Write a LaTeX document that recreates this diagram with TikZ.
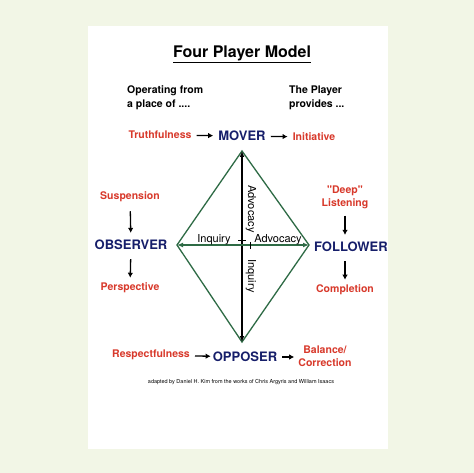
\documentclass[tikz,border=0pt]{standalone}
\usepackage{fontspec}
\setmainfont{TeX Gyre Heros}[Ligatures=TeXOff]
\usetikzlibrary{arrows.meta, positioning}

\definecolor{bgcol}{HTML}{F2F6E6}
\definecolor{rolecol}{HTML}{161E6A}
\definecolor{qualcol}{HTML}{D8392B}
\definecolor{diamcol}{HTML}{2E6B45}

\tikzset{
  role/.style={font=\fontsize{13}{15}\selectfont\bfseries, text=rolecol, inner sep=2pt},
  qual/.style={font=\fontsize{10.5}{13}\selectfont\bfseries, text=qualcol, inner sep=2pt, align=center},
  head/.style={font=\fontsize{10.5}{14}\selectfont\bfseries, align=left, anchor=west, inner sep=0pt},
  axis/.style={font=\fontsize{11}{13}\selectfont, inner sep=1pt},
  arr/.style={line width=1.3pt, -{Latex[length=5pt,width=5.5pt]}},
  varr/.style={arr, shorten <=7pt, shorten >=5pt}
}

\begin{document}
\begin{tikzpicture}[x=1pt, y=-1pt, >=latex]
  \useasboundingbox (0,0) rectangle (474,473);
  \fill [bgcol] (0,0) rectangle (474,473);
  \fill [white] (88,26) rectangle (388,449);

  \node (title) at (242,54) {\fontsize{16}{18}\selectfont\bfseries\underline{Four Player Model}};
  \node (ophead) at (127,98) [head] {Operating from\\a place of ....};
  \node (provhead) at (289,98) [head] {The Player\\provides ...};

  % top row
  \node (mover) at (242,136) [role] {MOVER};
  \node (truth) at (160,135) [qual] {Truthfulness};
  \node (initiative) at (314,137) [qual] {Initiative};
  \draw [arr, shorten <=3pt, shorten >=3pt] (truth) -- (mover);
  \draw [arr, shorten <=3pt, shorten >=3pt] (mover) -- (initiative);

  % diamond
  \coordinate (top) at (242,151);
  \coordinate (right) at (309,245);
  \coordinate (bottom) at (242,342);
  \coordinate (left) at (177,245);
  \draw [diamcol, line width=1.3pt, line join=miter] (top) -- (right) -- (bottom) -- (left) -- cycle;
  \draw [line width=1.3pt, {Latex[length=6pt,width=5pt]}-{Latex[length=6pt,width=5pt]}] (bottom) -- (top);
  \draw [diamcol, line width=1.3pt, {Latex[length=6pt,width=5pt]}-{Latex[length=6pt,width=5pt]}] (left) -- (right);
  \draw [line width=0.6pt] (238,240) -- (246,240);
  \draw [line width=0.6pt] (250,242) -- (250,249);
  \node (advv) at (251,209) [axis, rotate=-90] {Advocacy};
  \node (inqv) at (251,276) [axis, rotate=-90] {Inquiry};
  \node (inqh) at (214,240) [axis] {Inquiry};
  \node (advh) at (278,240) [axis] {Advocacy};

  % left side
  \node (observer) at (131,245) [role] {OBSERVER};
  \node (suspension) at (130,197) [qual] {Suspension};
  \node (perspective) at (130,288) [qual] {Perspective};
  \draw [varr] (suspension) -- (observer);
  \draw [varr, shorten >=3pt] (observer) -- (perspective);

  % right side
  \node (follower) at (351,247) [role] {FOLLOWER};
  \node (deep) at (345,197) [qual] {"Deep"\\Listening};
  \node (completion) at (345,290) [qual] {Completion};
  \draw [varr, shorten <=5pt] (deep) -- (deep |- follower.north);
  \draw [varr, shorten >=3pt] (deep |- follower.south) -- (completion);

  % bottom row
  \node (opposer) at (245,357) [role] {OPPOSER};
  \node (respect) at (151,355) [qual] {Respectfulness};
  \node (balance) at (325,356) [qual] {Balance/\\Correction};
  \draw [arr, shorten <=3pt, shorten >=0pt] (respect) -- (opposer);
  \draw [arr, shorten <=3pt, shorten >=2pt] (opposer) -- (opposer -| balance.west);

  \node (credit) at (241,382) {\fontsize{5.5}{6}\selectfont adapted by Daniel H. Kim from the works of Chris Argyris and William Isaacs};
\end{tikzpicture}
\end{document}
